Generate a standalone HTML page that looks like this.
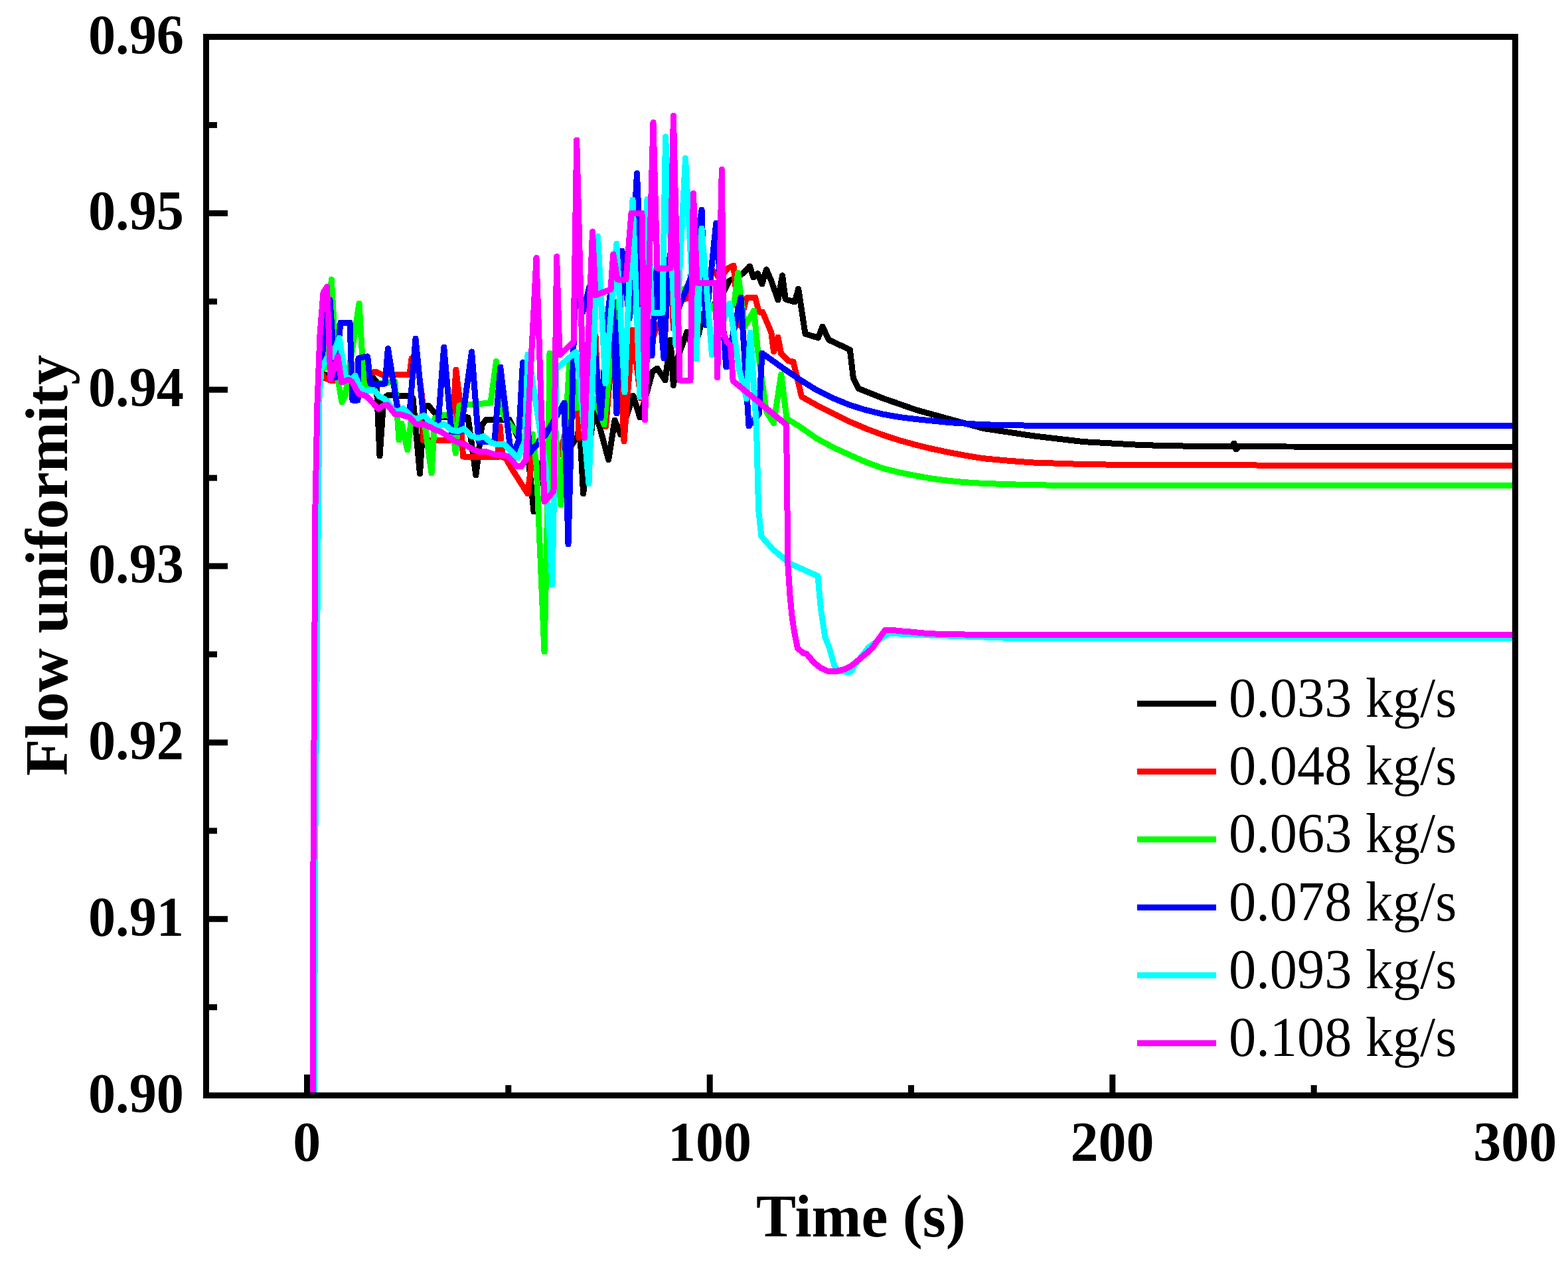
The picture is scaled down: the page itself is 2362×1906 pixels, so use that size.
<!DOCTYPE html>
<html><head><meta charset="utf-8"><style>
html,body{margin:0;padding:0;background:#fff;}
svg{display:block;}
text{font-family:"Liberation Serif","Times New Roman",serif;}
</style></head><body>
<svg width="2362" height="1906" viewBox="0 0 2362 1906">
<rect width="2362" height="1906" fill="#fff"/>
<defs><clipPath id="pc"><rect x="310.5" y="55.5" width="1972" height="1595"/></clipPath></defs>
<g fill="none" stroke-linejoin="round" stroke-linecap="round" stroke-width="9" clip-path="url(#pc)" shape-rendering="crispEdges">
<path d="M473.5,1652 L474.5,1300 L479.5,760 L481,590 L482,562 L495,566 L520,570 L545,568 L560,567 L567,575 L572,687 L578,600 L585,595 L617,597 L622,600 L632.5,714 L639,612 L645,611 L655,622 L660,628 L705,629 L716.9,716 L726,640 L733,632 L767,632 L781,660 L795,680 L804,771 L815,700 L830,660 L845,722 L855,680 L870,657 L873,637 L878.6,744 L895.5,614 L916.7,693 L926,633 L935,655 L953.75,596 L964,629 L983,560 L990,555 L1002,573 L1010,512 L1014.4,581 L1020,541 L1035,500 L1040,515 L1046,492 L1052,505 L1060,472 L1075,460 L1090,440 L1098.6,423 L1110,418 L1119,412 L1129.3,401 L1134.9,418 L1141.4,412 L1147.9,428 L1154.4,406 L1161.8,423 L1172,452 L1178.6,415 L1183.2,451 L1197.2,455 L1202.7,435 L1213,503 L1232.5,509 L1239,492 L1248.3,512 L1280.4,527 L1285.4,570 L1293,585.3 L1330.6,600.3 L1380.9,617.9 L1431,631.7 L1481.3,645.5 L1556.6,656.8 L1631.9,665.6 L1720,670.6 L1772.4,671.9 L1855,672.8 L1859,668 L1862,677 L1866,672.5 L1937.9,673 L2290,673.5" stroke="#000000"/>
<path d="M473.5,1652 L474.5,1300 L479.5,760 L481,590 L482,560 L490,570 L500,574 L530,572 L552,570 L558,562 L566,560 L574,564 L617,564 L620,540 L628,540 L636,600 L637.5,664 L680,663 L686.9,557 L692,600 L697.5,688 L750,689 L753,642 L757,689 L762,690 L770,705 L795,744 L803,675 L815,660 L830,640 L843,685 L855,640 L867,621 L870,575 L872,660 L880,650 L897,506 L900,580 L912.5,643 L917.5,582 L926,505 L935,560 L940,665 L953,497 L965,600 L975,540 L988,495 L998,480 L1011,412 L1014.4,496 L1025,450 L1034,450 L1050,430 L1073,407 L1085,420 L1095.8,404.6 L1105,400 L1113.5,490 L1124.6,449 L1130.2,448 L1137.6,448 L1143.2,470 L1148.8,470 L1161.8,501 L1165.5,530 L1172,508 L1176.7,533 L1187.9,544 L1195,545 L1207.6,597.8 L1230.2,610.4 L1255,623 L1280.4,635.5 L1305,646 L1330.6,655.6 L1355,663.5 L1380.9,670.6 L1405,676.5 L1431,681.9 L1456,686.6 L1481.3,690.7 L1520,694.3 L1556.6,697 L1632,699.5 L1720,700.8 L2290,701.5" stroke="#ff0000"/>
<path d="M473.5,1652 L474.5,1300 L479.5,760 L481,590 L484,556 L491,553 L499.3,421 L507,560 L515,606 L520.3,595 L541,457 L548,575 L552,582 L570,578 L595,575 L601,663 L605,638 L613.75,678 L619,636 L640,640 L650,713 L655,630 L670,625 L680,628 L686.25,683 L692,611 L739,607 L747.5,544.5 L754,615 L762,632 L781,655 L790,660 L802,654 L808,700 L820,982 L825,750 L828,532 L835,620 L844.8,761 L858,544 L863,600 L869,615 L873,560 L880,650 L895,600 L910,640 L927,468 L940,430 L955,470 L968,440 L975,420 L990,405 L1010,405 L1018,440 L1046,430 L1060,450 L1080,470 L1095,465 L1106,457 L1111.6,411 L1122,492 L1135.8,468 L1141.4,527 L1154.4,620 L1165.5,638 L1176.7,564 L1185,630.5 L1205,643 L1230.2,660.6 L1255,674 L1280.4,685.7 L1305,696.5 L1330.6,705.8 L1355,712 L1380.9,717.1 L1405,721.3 L1431,724.6 L1456,726.8 L1481.3,728.4 L1556.6,730.9 L1720,731.8 L2290,731.5" stroke="#00ff00"/>
<path d="M473.5,1652 L474.5,1300 L479.5,760 L481,590 L484,550 L489,500 L497,452 L505,569 L513,486 L527,486 L531,603 L539,603 L540,540 L547,538 L553.7,537 L558,578 L580,578 L584.4,525 L599,616 L617,622 L626,510 L637.5,625 L646,638 L660,638 L668.7,523 L680,650 L694,650 L710.6,530 L721,665 L745,665 L753.7,553 L768.7,675 L775,680 L781,665 L787.5,546 L798,682 L822,655 L850,607 L856,820 L866,445 L878,470 L888,432 L905,630 L916,470 L922,420 L928.75,623 L937,378 L948,480 L959.5,261 L968,470 L982,536 L989,409 L1000,540 L1007,400 L1013,362 L1020,470 L1040,420 L1057,316 L1063,490 L1078.75,336 L1093.75,553 L1116,448 L1128,642 L1143.2,624 L1147.9,532 L1180,555.1 L1205,572 L1230.2,587.8 L1255,600 L1280.4,610.4 L1305,618 L1330.6,624.2 L1355,628.5 L1380.9,631.7 L1431,636.7 L1481.3,639.8 L1556.6,641.3 L1720,641.8 L2290,641.8" stroke="#0000ff"/>
<path d="M473.5,1652 L474.5,1300 L479.5,760 L481,600 L484,556 L492,540 L500,538 L511,509 L520,566 L528,572 L535,566 L544,588 L552,588 L565,589 L571,597 L577.5,600 L584,605 L592,618 L600,620 L607.5,615 L615,623 L625,632 L638.75,626 L648,636 L660,643 L668.75,639 L680,648 L690,650 L698.75,646 L710,657 L720,660 L728.75,657.5 L740,667 L750,670 L758.75,669 L770,680 L780,690 L791,664 L795,534 L800,560 L822,705 L832,881 L838,556 L867.5,530 L872,560 L887,729 L900.6,356 L912,578 L928.75,367 L941,591 L953,301 L964,598 L975,300 L982,471 L998,471 L1002.5,206 L1018,520 L1032.5,238.5 L1048.75,541 L1057,344 L1072.5,535 L1099,457 L1113.5,557 L1124.6,601 L1130.2,501 L1139.4,640 L1142.6,768 L1146.9,808 L1164,827.5 L1189.5,848.9 L1232,868 L1236.4,917 L1242.8,959.7 L1249.5,976.7 L1256.7,1002.3 L1261.8,1011 L1272,1012 L1282.3,1012 L1286.4,1004 L1292.5,996 L1307.9,976 L1328.3,961 L1339.6,954 L1353.9,955 L1400,957 L1530,961.7 L2290,961.7" stroke="#00ffff"/>
<path d="M471,1652 L472,1300 L475,760 L478,607 L482,504 L487,441 L492.5,432 L498,571 L509,537 L514.5,576 L525,572 L530,575 L540,593 L552,597 L570,616 L577.5,611 L583.75,610 L595,624 L605,625 L617.5,629 L626.25,639 L637.5,639 L648.75,644 L655,647.5 L665,651 L675,657.5 L683.75,664 L692.5,667.5 L701,670 L712.5,677.5 L720,680 L733.75,681 L745,685 L752.5,685 L765,687.5 L772.5,695 L777.5,702 L785,703 L792.5,692 L808,388.5 L820,756 L834,740 L838.6,386.5 L843,535 L864,515 L868.7,211 L880.4,660 L892.5,349 L897,445 L920,436 L923.75,383 L930,421 L943,421 L951,321 L967,321 L971.5,633 L984,184.5 L990,404 L1010,404 L1014.4,174.5 L1024,573 L1040,573 L1044.4,291.5 L1050,426 L1078,426 L1080.6,569 L1087.3,255.5 L1090,502 L1095,515 L1100.5,520 L1104.2,574 L1184.5,640 L1187,853 L1190.2,900 L1193.3,930.7 L1196.4,951 L1201.5,976.7 L1210.7,984.4 L1214.8,985 L1226,998.2 L1236.3,1006.4 L1246.5,1011 L1261.8,1011 L1272,1008.4 L1282.3,1003.3 L1292.5,995 L1313,977.7 L1333.4,949 L1343.6,949 L1353.9,950.6 L1374.3,952.2 L1400,954.8 L1475,956.5 L2290,956.5" stroke="#ff00ff"/>
</g>
<g><rect x="310.5" y="55.5" width="1972" height="1595" fill="none" stroke="#000" stroke-width="9"/><line x1="315" x2="343" y1="1650.5" y2="1650.5" stroke="#000" stroke-width="9"/><line x1="315" x2="343" y1="1384.7" y2="1384.7" stroke="#000" stroke-width="9"/><line x1="315" x2="343" y1="1118.8" y2="1118.8" stroke="#000" stroke-width="9"/><line x1="315" x2="343" y1="853.0" y2="853.0" stroke="#000" stroke-width="9"/><line x1="315" x2="343" y1="587.2" y2="587.2" stroke="#000" stroke-width="9"/><line x1="315" x2="343" y1="321.3" y2="321.3" stroke="#000" stroke-width="9"/><line x1="315" x2="343" y1="55.5" y2="55.5" stroke="#000" stroke-width="9"/><line x1="315" x2="327" y1="1517.6" y2="1517.6" stroke="#000" stroke-width="9"/><line x1="315" x2="327" y1="1251.8" y2="1251.8" stroke="#000" stroke-width="9"/><line x1="315" x2="327" y1="985.9" y2="985.9" stroke="#000" stroke-width="9"/><line x1="315" x2="327" y1="720.1" y2="720.1" stroke="#000" stroke-width="9"/><line x1="315" x2="327" y1="454.3" y2="454.3" stroke="#000" stroke-width="9"/><line x1="315" x2="327" y1="188.4" y2="188.4" stroke="#000" stroke-width="9"/><line x1="462.5" x2="462.5" y1="1646" y2="1619" stroke="#000" stroke-width="9"/><line x1="1069.2" x2="1069.2" y1="1646" y2="1619" stroke="#000" stroke-width="9"/><line x1="1675.8" x2="1675.8" y1="1646" y2="1619" stroke="#000" stroke-width="9"/><line x1="2282.5" x2="2282.5" y1="1646" y2="1619" stroke="#000" stroke-width="9"/><line x1="765.8" x2="765.8" y1="1646" y2="1635" stroke="#000" stroke-width="9"/><line x1="1372.5" x2="1372.5" y1="1646" y2="1635" stroke="#000" stroke-width="9"/><line x1="1979.2" x2="1979.2" y1="1646" y2="1635" stroke="#000" stroke-width="9"/></g>
<g font-size="84" font-weight="bold"><text transform="translate(277,1675.5) scale(0.98,1)" text-anchor="end">0.90</text><text transform="translate(277,1409.7) scale(0.98,1)" text-anchor="end">0.91</text><text transform="translate(277,1143.8) scale(0.98,1)" text-anchor="end">0.92</text><text transform="translate(277,878.0) scale(0.98,1)" text-anchor="end">0.93</text><text transform="translate(277,612.2) scale(0.98,1)" text-anchor="end">0.94</text><text transform="translate(277,346.3) scale(0.98,1)" text-anchor="end">0.95</text><text transform="translate(277,80.5) scale(0.98,1)" text-anchor="end">0.96</text><text x="462.2" y="1749" text-anchor="middle">0</text><text x="1068.9" y="1749" text-anchor="middle">100</text><text x="1675.5" y="1749" text-anchor="middle">200</text><text x="2282.2" y="1749" text-anchor="middle">300</text></g>
<text x="1139" y="1862.7" font-size="90" font-weight="bold" text-anchor="start" >Time (s)</text>
<text transform="translate(101,1169) rotate(-90)" font-size="91" font-weight="bold">Flow uniformity</text>
<g font-size="85"><line x1="1713" x2="1832" y1="1060.2" y2="1060.2" stroke="#000000" stroke-width="9"/><text transform="translate(1851,1079.5) scale(0.969,1)">0.033 kg/s</text><line x1="1713" x2="1832" y1="1162.5" y2="1162.5" stroke="#ff0000" stroke-width="9"/><text transform="translate(1851,1181.8) scale(0.969,1)">0.048 kg/s</text><line x1="1713" x2="1832" y1="1264.8" y2="1264.8" stroke="#00ff00" stroke-width="9"/><text transform="translate(1851,1284.1) scale(0.969,1)">0.063 kg/s</text><line x1="1713" x2="1832" y1="1367.2" y2="1367.2" stroke="#0000ff" stroke-width="9"/><text transform="translate(1851,1386.5) scale(0.969,1)">0.078 kg/s</text><line x1="1713" x2="1832" y1="1469.5" y2="1469.5" stroke="#00ffff" stroke-width="9"/><text transform="translate(1851,1488.8) scale(0.969,1)">0.093 kg/s</text><line x1="1713" x2="1832" y1="1571.8" y2="1571.8" stroke="#ff00ff" stroke-width="9"/><text transform="translate(1851,1591.0) scale(0.969,1)">0.108 kg/s</text></g>
</svg>
</body></html>
